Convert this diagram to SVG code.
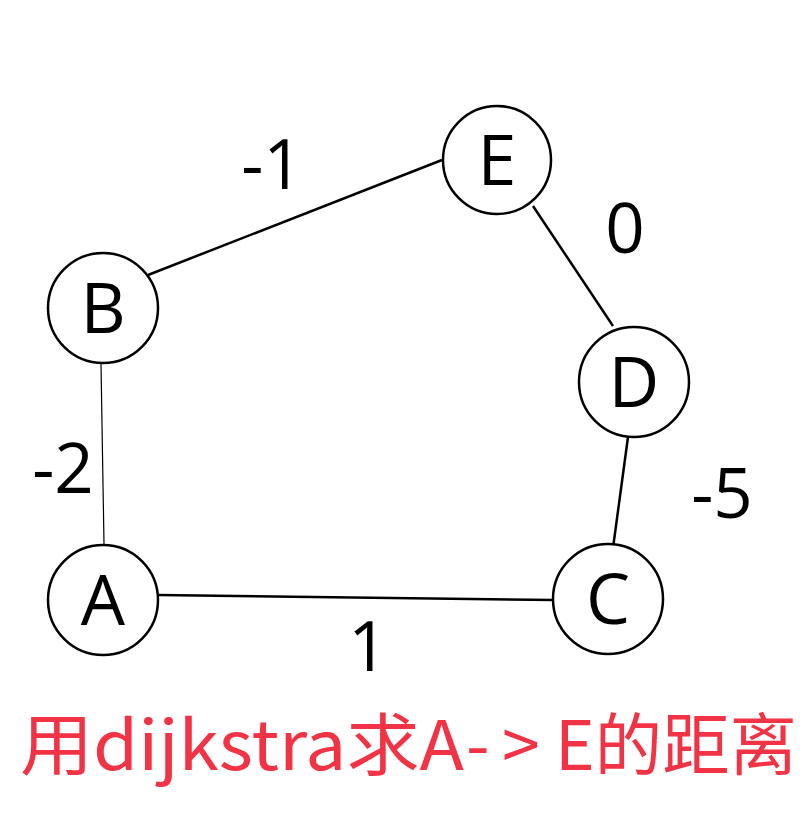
<svg xmlns="http://www.w3.org/2000/svg" width="812" height="834" viewBox="0 0 812 834">
<style>
.node{fill:#fff;stroke:#000;stroke-width:2.5}
.nl{font-family:"Open Sans","Noto Sans",sans-serif;font-size:70px;fill:#000;text-anchor:middle}
.el{font-family:"Open Sans","Noto Sans",sans-serif;font-size:69px;fill:#000;text-anchor:middle}
.e{stroke:#000;stroke-width:2.5;fill:none}
</style>
<rect width="812" height="834" fill="#fff"/>
<g id="edges">
<line class="e" x1="148" y1="275" x2="442" y2="160"/>
<line class="e" x1="533" y1="206" x2="613" y2="326"/>
<line class="e" x1="628" y1="437" x2="613" y2="548"/>
<line class="e" x1="101" y1="364" x2="104" y2="544" style="stroke-width:1.2"/>
<line class="e" x1="158" y1="595" x2="553" y2="600"/>
<text class="el" x="272" y="189">-1</text>
<text class="el" x="625" y="253">0</text>
<text class="el" x="63" y="493">-2</text>
<text class="el" x="722" y="518">-5</text>
<text class="el" x="368" y="671">1</text>
</g>
<g id="E"><circle class="node" cx="497" cy="160" r="54"/><text class="nl" x="497" y="185">E</text></g>
<g id="B"><circle class="node" cx="103" cy="308" r="55"/><text class="nl" x="103" y="333">B</text></g>
<g id="D"><circle class="node" cx="634" cy="382" r="55"/><text class="nl" x="634" y="407">D</text></g>
<g id="A"><circle class="node" cx="103" cy="600" r="55"/><text class="nl" x="103" y="625">A</text></g>
<g id="C"><circle class="node" cx="608" cy="599" r="55"/><text class="nl" x="608" y="624">C</text></g>
<text y="770" font-family="'Noto Sans CJK SC',sans-serif" font-size="68" fill="#f23346"><tspan x="20" textLength="444" lengthAdjust="spacingAndGlyphs">用dijkstra求A</tspan><tspan x="466">-</tspan><tspan x="502">&gt;</tspan><tspan x="555" textLength="242" lengthAdjust="spacingAndGlyphs">E的距离</tspan></text>
</svg>
